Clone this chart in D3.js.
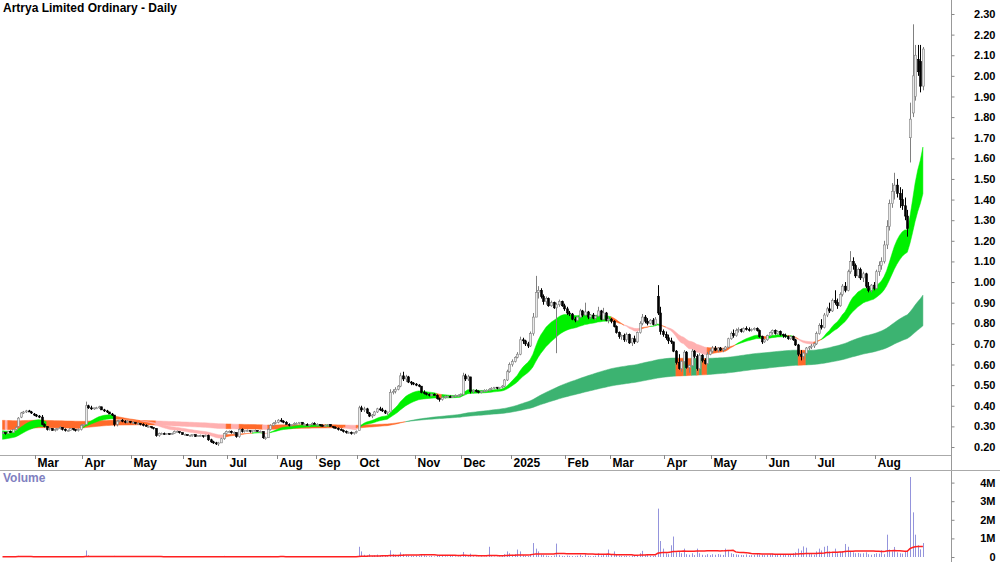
<!DOCTYPE html>
<html>
<head>
<meta charset="utf-8">
<script src="https://cdn.jsdelivr.net/npm/d3@7"></script>
<style>
  body { margin: 0; background: #fff; }
  svg { display: block; font-family: "Liberation Sans Narrow", "Arial Narrow", "Liberation Sans", Arial, sans-serif; }
</style>
</head>
<body>
<svg id="chart" width="1000" height="562"></svg>
<script>
const title = 'Artrya Limited Ordinary - Daily';

// month labels and the bar index where each month starts
const monthLabels = ['Mar', 'Apr', 'May', 'Jun', 'Jul', 'Aug', 'Sep', 'Oct', 'Nov', 'Dec',
    '2025', 'Feb', 'Mar', 'Apr', 'May', 'Jun', 'Jul', 'Aug'];
const monthStarts = [13, 31, 50, 70, 87, 106, 121, 137, 159, 177, 196, 217, 234, 255, 273, 294, 313, 336];

const priceTicks = [0.2, 0.3, 0.4, 0.5, 0.6, 0.7, 0.8, 0.9, 1.0, 1.1, 1.2, 1.3, 1.4, 1.5, 1.6, 1.7, 1.8, 1.9, 2.0, 2.1, 2.2, 2.3];
const volumeTicks = [0, 1, 2, 3, 4];
const volumeTickLabels = ['0', '1M', '2M', '3M', '4M'];

// daily bars: [open, high, low, close]
const candles = [
    // Feb 2024
    [0.27,0.275,0.265,0.27],[0.27,0.27,0.26,0.265],[0.265,0.275,0.265,0.275],[0.275,0.28,0.27,0.27],
    [0.27,0.285,0.27,0.285],[0.285,0.30,0.28,0.295],[0.30,0.345,0.30,0.34],[0.345,0.37,0.34,0.365],
    [0.365,0.375,0.36,0.37],[0.37,0.38,0.365,0.375],[0.375,0.38,0.37,0.37],[0.37,0.375,0.36,0.365],
    [0.36,0.365,0.35,0.355],
    // Mar
    [0.355,0.36,0.345,0.35],[0.35,0.355,0.34,0.345],[0.345,0.355,0.305,0.31],[0.31,0.315,0.295,0.30],
    [0.30,0.30,0.28,0.285],[0.285,0.295,0.28,0.29],[0.29,0.29,0.28,0.28],[0.28,0.29,0.275,0.285],
    [0.285,0.29,0.28,0.29],[0.29,0.30,0.285,0.295],[0.295,0.295,0.28,0.285],[0.285,0.29,0.275,0.28],
    [0.28,0.285,0.275,0.28],[0.28,0.29,0.28,0.29],[0.29,0.29,0.28,0.285],[0.285,0.285,0.275,0.28],
    [0.28,0.29,0.275,0.285],[0.285,0.31,0.28,0.305],
    // Apr
    [0.305,0.31,0.30,0.31],[0.31,0.42,0.31,0.40],[0.40,0.405,0.385,0.39],[0.39,0.40,0.38,0.385],
    [0.385,0.39,0.38,0.39],[0.39,0.395,0.385,0.39],[0.39,0.40,0.385,0.395],[0.395,0.395,0.38,0.38],
    [0.38,0.385,0.37,0.375],[0.375,0.38,0.365,0.37],[0.37,0.37,0.36,0.36],[0.36,0.365,0.35,0.355],
    [0.355,0.355,0.30,0.31],[0.31,0.33,0.30,0.325],[0.325,0.33,0.32,0.33],[0.33,0.335,0.32,0.325],
    [0.325,0.33,0.315,0.32],[0.32,0.33,0.315,0.325],[0.325,0.325,0.315,0.32],
    // May
    [0.32,0.325,0.315,0.32],[0.32,0.32,0.31,0.315],[0.315,0.32,0.31,0.315],[0.315,0.315,0.305,0.31],
    [0.31,0.315,0.30,0.305],[0.305,0.31,0.30,0.30],[0.30,0.305,0.295,0.30],[0.30,0.30,0.29,0.295],
    [0.295,0.295,0.285,0.29],[0.29,0.29,0.25,0.255],[0.255,0.27,0.25,0.265],[0.265,0.27,0.26,0.265],
    [0.265,0.27,0.26,0.26],[0.26,0.265,0.26,0.265],[0.265,0.265,0.26,0.26],[0.26,0.27,0.26,0.265],
    [0.265,0.28,0.265,0.275],[0.275,0.28,0.27,0.275],[0.275,0.275,0.265,0.27],[0.27,0.27,0.26,0.26],
    // Jun
    [0.26,0.265,0.255,0.26],[0.26,0.26,0.255,0.255],[0.255,0.26,0.25,0.255],[0.255,0.26,0.25,0.26],
    [0.26,0.26,0.25,0.25],[0.25,0.255,0.25,0.255],[0.255,0.26,0.25,0.255],[0.255,0.255,0.245,0.25],
    [0.25,0.26,0.25,0.255],[0.255,0.26,0.23,0.235],[0.235,0.24,0.22,0.225],[0.225,0.23,0.215,0.22],
    [0.22,0.225,0.21,0.215],[0.215,0.225,0.205,0.22],[0.22,0.245,0.22,0.24],[0.24,0.27,0.235,0.265],
    [0.265,0.28,0.26,0.275],
    // Jul
    [0.275,0.28,0.27,0.275],[0.275,0.28,0.265,0.27],[0.27,0.275,0.26,0.27],[0.27,0.27,0.245,0.25],
    [0.25,0.29,0.245,0.285],[0.285,0.29,0.27,0.275],[0.275,0.28,0.27,0.28],[0.28,0.285,0.275,0.28],
    [0.28,0.28,0.27,0.275],[0.275,0.28,0.27,0.28],[0.28,0.285,0.275,0.28],[0.28,0.28,0.275,0.275],
    [0.275,0.28,0.27,0.275],[0.275,0.275,0.24,0.245],[0.245,0.25,0.235,0.245],[0.245,0.29,0.245,0.285],
    [0.285,0.31,0.28,0.305],[0.305,0.32,0.30,0.315],[0.315,0.33,0.31,0.32],
    // Aug
    [0.32,0.335,0.315,0.33],[0.33,0.34,0.32,0.325],[0.325,0.33,0.315,0.32],[0.32,0.325,0.31,0.31],
    [0.31,0.315,0.30,0.305],[0.305,0.31,0.30,0.31],[0.31,0.32,0.305,0.315],[0.315,0.32,0.31,0.315],
    [0.315,0.32,0.31,0.32],[0.32,0.32,0.31,0.31],[0.31,0.315,0.305,0.31],[0.31,0.315,0.305,0.305],
    [0.305,0.31,0.30,0.31],[0.31,0.32,0.305,0.315],[0.315,0.32,0.31,0.31],
    // Sep
    [0.31,0.315,0.305,0.31],[0.31,0.31,0.30,0.305],[0.305,0.31,0.30,0.30],[0.30,0.31,0.30,0.305],
    [0.305,0.31,0.30,0.31],[0.31,0.31,0.30,0.30],[0.30,0.30,0.29,0.295],[0.295,0.30,0.29,0.29],
    [0.29,0.295,0.28,0.285],[0.285,0.29,0.28,0.28],[0.28,0.285,0.27,0.275],[0.275,0.28,0.265,0.27],
    [0.27,0.275,0.265,0.27],[0.27,0.275,0.26,0.265],[0.265,0.27,0.26,0.27],[0.27,0.28,0.265,0.275],
    // Oct
    [0.28,0.40,0.28,0.39],[0.39,0.40,0.37,0.38],[0.38,0.395,0.37,0.385],[0.385,0.39,0.36,0.365],
    [0.365,0.37,0.345,0.35],[0.35,0.36,0.34,0.355],[0.355,0.375,0.35,0.37],[0.37,0.39,0.365,0.385],
    [0.385,0.395,0.375,0.38],[0.38,0.39,0.37,0.375],[0.375,0.38,0.36,0.365],[0.365,0.37,0.355,0.37],
    [0.37,0.48,0.37,0.465],[0.465,0.48,0.455,0.47],[0.47,0.49,0.46,0.48],[0.48,0.50,0.475,0.495],
    [0.495,0.56,0.49,0.545],[0.545,0.565,0.52,0.53],[0.53,0.55,0.515,0.54],[0.54,0.545,0.51,0.515],
    [0.515,0.52,0.50,0.51],[0.51,0.515,0.50,0.505],
    // Nov
    [0.505,0.51,0.495,0.50],[0.50,0.505,0.49,0.495],[0.495,0.495,0.46,0.465],[0.465,0.475,0.455,0.46],
    [0.46,0.465,0.45,0.455],[0.455,0.46,0.445,0.45],[0.45,0.46,0.445,0.455],[0.455,0.46,0.45,0.45],
    [0.45,0.455,0.43,0.435],[0.435,0.44,0.42,0.43],[0.43,0.445,0.425,0.44],[0.44,0.45,0.435,0.445],
    [0.445,0.45,0.44,0.445],[0.445,0.45,0.44,0.44],[0.44,0.45,0.44,0.445],[0.445,0.455,0.44,0.45],
    [0.45,0.455,0.445,0.45],[0.45,0.46,0.445,0.455],
    // Dec
    [0.455,0.56,0.45,0.545],[0.545,0.555,0.52,0.53],[0.53,0.55,0.52,0.54],[0.54,0.54,0.46,0.47],
    [0.47,0.48,0.46,0.475],[0.475,0.48,0.465,0.47],[0.47,0.475,0.46,0.465],[0.465,0.475,0.46,0.47],
    [0.47,0.48,0.465,0.475],[0.475,0.48,0.47,0.475],[0.475,0.485,0.47,0.48],[0.48,0.49,0.475,0.485],
    [0.485,0.49,0.48,0.49],[0.49,0.49,0.48,0.485],[0.485,0.49,0.48,0.49],[0.49,0.50,0.485,0.495],
    [0.495,0.53,0.49,0.525],[0.525,0.575,0.52,0.565],[0.565,0.61,0.56,0.60],
    // Jan 2025
    [0.60,0.625,0.59,0.615],[0.615,0.64,0.61,0.635],[0.635,0.66,0.63,0.65],[0.65,0.735,0.645,0.72],
    [0.72,0.73,0.70,0.715],[0.715,0.72,0.69,0.70],[0.70,0.71,0.68,0.69],[0.69,0.76,0.685,0.75],
    [0.75,0.85,0.74,0.83],[0.83,1.03,0.83,0.95],[0.95,0.98,0.92,0.96],[0.96,0.97,0.92,0.93],
    [0.93,0.94,0.89,0.905],[0.905,0.93,0.89,0.92],[0.92,0.925,0.88,0.885],[0.885,0.91,0.88,0.90],
    [0.90,0.905,0.87,0.875],[0.875,0.90,0.655,0.89],[0.89,0.915,0.88,0.905],[0.905,0.91,0.88,0.885],
    [0.885,0.895,0.86,0.87],
    // Feb
    [0.87,0.88,0.84,0.85],[0.85,0.86,0.835,0.845],[0.845,0.85,0.815,0.82],[0.82,0.83,0.805,0.815],
    [0.815,0.835,0.81,0.83],[0.83,0.87,0.825,0.86],[0.86,0.865,0.83,0.84],[0.84,0.90,0.835,0.855],
    [0.855,0.86,0.82,0.83],[0.83,0.845,0.82,0.84],[0.84,0.85,0.82,0.825],[0.825,0.84,0.815,0.835],
    [0.835,0.88,0.83,0.86],[0.86,0.865,0.815,0.82],[0.82,0.875,0.815,0.85],[0.85,0.855,0.81,0.815],
    [0.815,0.83,0.80,0.82],
    // Mar
    [0.82,0.825,0.80,0.81],[0.81,0.815,0.78,0.785],[0.785,0.79,0.75,0.755],[0.755,0.76,0.725,0.735],
    [0.735,0.745,0.72,0.74],[0.74,0.75,0.71,0.72],[0.72,0.755,0.71,0.745],[0.745,0.75,0.70,0.705],
    [0.705,0.73,0.69,0.725],[0.725,0.74,0.70,0.71],[0.71,0.76,0.705,0.755],[0.755,0.81,0.75,0.80],
    [0.80,0.845,0.79,0.83],[0.83,0.84,0.80,0.81],[0.81,0.825,0.79,0.80],[0.80,0.82,0.795,0.815],
    [0.815,0.825,0.79,0.795],[0.795,0.83,0.79,0.82],[0.93,0.985,0.84,0.85],[0.85,0.88,0.745,0.76],
    [0.76,0.77,0.735,0.745],
    // Apr
    [0.745,0.76,0.72,0.73],[0.73,0.745,0.70,0.715],[0.715,0.73,0.70,0.71],[0.71,0.71,0.66,0.665],
    [0.665,0.67,0.60,0.61],[0.61,0.65,0.575,0.58],[0.58,0.62,0.565,0.615],[0.615,0.67,0.60,0.66],
    [0.66,0.665,0.58,0.585],[0.585,0.60,0.56,0.595],[0.595,0.675,0.59,0.665],[0.665,0.67,0.63,0.64],
    [0.64,0.65,0.57,0.58],[0.58,0.655,0.575,0.645],[0.645,0.65,0.61,0.62],[0.62,0.63,0.60,0.605],
    [0.605,0.66,0.60,0.65],[0.65,0.675,0.645,0.665],
    // May
    [0.665,0.69,0.655,0.68],[0.68,0.69,0.665,0.67],[0.67,0.685,0.66,0.68],[0.68,0.685,0.665,0.67],
    [0.67,0.68,0.66,0.675],[0.675,0.69,0.67,0.685],[0.685,0.73,0.68,0.725],[0.725,0.76,0.72,0.75],
    [0.75,0.77,0.73,0.74],[0.74,0.775,0.735,0.765],[0.765,0.78,0.755,0.77],[0.77,0.775,0.755,0.76],
    [0.76,0.78,0.755,0.775],[0.775,0.785,0.765,0.77],[0.77,0.78,0.76,0.765],[0.765,0.775,0.76,0.77],
    [0.77,0.78,0.765,0.775],[0.775,0.78,0.76,0.765],[0.765,0.77,0.73,0.735],[0.735,0.74,0.70,0.71],
    [0.71,0.725,0.705,0.72],
    // Jun
    [0.72,0.745,0.715,0.74],[0.74,0.76,0.735,0.755],[0.755,0.77,0.745,0.765],[0.765,0.77,0.745,0.75],
    [0.75,0.765,0.745,0.76],[0.76,0.765,0.74,0.745],[0.745,0.75,0.73,0.74],[0.74,0.75,0.73,0.735],
    [0.735,0.74,0.72,0.725],[0.725,0.74,0.72,0.735],[0.735,0.74,0.715,0.72],[0.72,0.725,0.69,0.695],
    [0.695,0.70,0.64,0.65],[0.65,0.67,0.62,0.64],[0.64,0.66,0.625,0.655],[0.655,0.685,0.65,0.68],
    [0.68,0.69,0.67,0.685],[0.685,0.70,0.675,0.69],[0.69,0.705,0.68,0.70],
    // Jul
    [0.70,0.76,0.695,0.75],[0.75,0.80,0.745,0.79],[0.79,0.82,0.77,0.78],[0.78,0.85,0.775,0.84],
    [0.84,0.88,0.83,0.87],[0.87,0.90,0.85,0.86],[0.86,0.92,0.855,0.91],[0.91,0.96,0.89,0.90],
    [0.90,0.92,0.87,0.885],[0.885,0.95,0.88,0.94],[0.94,0.99,0.93,0.98],[0.98,1.00,0.95,0.96],
    [0.96,1.06,0.955,1.05],[1.05,1.15,1.04,1.10],[1.10,1.12,1.06,1.08],[1.08,1.09,1.02,1.03],
    [1.03,1.07,1.02,1.06],[1.06,1.07,1.01,1.02],[1.02,1.05,1.00,1.04],[1.04,1.045,0.97,0.98],
    [0.98,1.00,0.95,0.96],[0.96,0.99,0.95,0.985],[0.985,1.00,0.96,0.97],
    // Aug
    [0.97,1.06,0.965,1.05],[1.05,1.10,1.03,1.08],[1.08,1.12,1.06,1.10],[1.10,1.20,1.09,1.18],
    [1.18,1.30,1.16,1.27],[1.27,1.40,1.25,1.38],[1.38,1.48,1.36,1.44],[1.44,1.53,1.40,1.47],
    [1.47,1.50,1.41,1.43],[1.43,1.46,1.36,1.40],[1.40,1.45,1.35,1.37],[1.37,1.41,1.30,1.32],
    [1.32,1.35,1.22,1.26],[1.70,1.87,1.58,1.79],[1.82,2.25,1.80,2.00],[1.90,2.15,1.88,2.10],
    [2.08,2.15,2.00,2.02],[2.07,2.15,1.92,1.95],[1.95,2.14,1.93,2.13]
];

// daily volume, thousands of shares
const volumes = [
    15,8,12,20,10,25,60,30,20,15,10,18,12,
    20,10,35,15,8,12,6,10,15,9,5,12,8,10,14,6,9,30,
    20,350,90,40,25,15,30,20,12,18,25,10,60,30,15,10,8,12,10,
    8,12,6,10,15,8,5,10,6,40,20,10,8,5,12,6,15,10,8,12,
    6,8,5,10,12,6,8,5,10,30,25,15,20,10,35,60,20,
    10,8,15,12,45,10,8,6,12,5,8,10,6,35,15,40,55,25,20,
    30,15,10,8,12,6,5,10,8,12,6,5,8,10,6,
    8,10,5,6,12,8,10,15,20,10,12,18,8,10,15,20,
    550,300,120,80,150,60,90,130,70,50,60,40,360,150,120,90,250,160,100,80,60,50,
    70,60,150,90,50,40,60,30,120,80,50,40,30,60,45,35,30,40,
    270,60,40,180,40,30,20,35,20,30,550,40,25,20,30,50,150,300,200,
    120,150,400,300,90,60,50,150,750,450,300,120,100,80,60,50,80,720,100,60,50,
    80,60,50,40,70,120,50,150,60,40,50,70,200,80,150,100,400,
    100,300,150,80,60,50,60,40,70,50,90,200,330,100,120,70,60,90,2600,860,450,
    200,150,630,1100,250,300,200,450,150,120,200,100,450,200,120,90,150,100,
    150,120,160,130,110,450,350,200,160,140,120,110,100,140,90,100,110,160,140,120,100,
    120,150,180,140,120,110,130,150,160,120,200,250,450,350,570,500,200,150,120,
    300,450,350,550,600,300,250,450,200,280,320,700,550,300,250,200,220,180,200,250,150,120,160,
    200,180,360,150,1200,400,300,540,250,200,180,300,350,4300,2400,1200,630,410,750
];

// moving average bands: short fast, short slow, long fast, long slow
const emaPeriods = [16, 30, 140, 240];
// band values at the left edge
const emaSeeds = [0.28, 0.235, 0.285, 0.33];
const volumeAvgPeriod = 30;

const svg = d3.select('#chart');
const W = 1000, H = 562;
const axisX = 951;

const closes = candles.map(d => d[3]);

const x = d3.scaleLinear()
    .domain([0, candles.length - 1])
    .range([2.5, 2.5 + (candles.length - 1) * 2.6]);
const y = d3.scaleLinear().domain([0.2, 2.3]).range([447, 14]);
const yv = d3.scaleLinear().domain([0, 4]).range([557, 482.6]);

const ema = (period, seed) => {
    const k = 2 / (period + 1);
    let v = seed;
    return closes.map(c => (v = v + k * (c - v)));
};
const emas = emaPeriods.map((p, i) => ema(p, emaSeeds[i]));

svg.append('defs').append('clipPath').attr('id', 'priceClip')
    .append('rect').attr('x', 0).attr('y', 0).attr('width', axisX).attr('height', 455);

const price = svg.append('g').attr('clip-path', 'url(#priceClip)');

const colors = {
    short: '#00f000',
    long: '#3cb371',
    orange: '#ff6a2a',
    pink: '#ffb0b0',
};

// colour of a band at each bar, from the trend and where the close sits
const bandColours = (fast, slow, bull, needAbove, pinkGap) => closes.map((c, i) => {
    const top = Math.max(fast[i], slow[i]);
    const bot = Math.min(fast[i], slow[i]);
    if (fast[i] > slow[i]) {
        if (needAbove) return c >= top ? bull : 'orange';
        return c >= bot ? bull : 'orange';
    }
    return c < bot * pinkGap ? 'pink' : 'orange';
});

const drawBand = (fast, slow, bull, needAbove, pinkGap) => {
    const cols = bandColours(fast, slow, bull, needAbove, pinkGap);
    const runs = [];
    cols.forEach((c, i) => {
        if (!runs.length || runs[runs.length - 1].c !== c) runs.push({c, s: i, e: i});
        else runs[runs.length - 1].e = i;
    });
    const area = d3.area()
        .x(i => x(i))
        .y0(i => y(Math.min(fast[i], slow[i])))
        .y1(i => y(Math.max(fast[i], slow[i])));
    runs.forEach(r => {
        const idx = d3.range(r.s, Math.min(r.e + 1, candles.length - 1) + 1);
        price.append('path')
            .attr('d', area(idx))
            .attr('fill', colors[r.c])
            .attr('stroke', colors[r.c])
            .attr('stroke-width', 0.5);
    });
};

drawBand(emas[2], emas[3], 'long', true, 0.94);
drawBand(emas[0], emas[1], 'short', false, 1);

// candles
const cg = price.append('g');
candles.forEach((d, i) => {
    const [o, h, l, c] = d;
    const up = c >= o;
    const cx = Math.round(x(i)) + 0.5;
    cg.append('line')
        .attr('x1', cx).attr('x2', cx)
        .attr('y1', y(h)).attr('y2', y(l))
        .attr('stroke', up ? '#808080' : '#000')
        .attr('stroke-width', 1);
    const top = y(Math.max(o, c));
    const ht = Math.max(1, Math.abs(y(o) - y(c)));
    cg.append('rect')
        .attr('x', cx - 1).attr('y', top)
        .attr('width', 2).attr('height', ht)
        .attr('fill', up ? '#e8e8e8' : '#000')
        .attr('stroke', up ? '#808080' : '#000')
        .attr('stroke-width', 0.6);
});

// title
svg.append('text')
    .attr('x', 3).attr('y', 11.5)
    .attr('font-size', 12).attr('font-weight', 'bold')
    .attr('fill', '#000')
    .text(title);

// right axis line
svg.append('line')
    .attr('x1', axisX + 0.5).attr('x2', axisX + 0.5)
    .attr('y1', 0).attr('y2', H)
    .attr('stroke', '#999');

// price axis
const pAxis = svg.append('g').attr('transform', `translate(${axisX + 0.5},0)`)
    .call(d3.axisRight(y).tickValues(priceTicks).tickSize(3).tickFormat(d3.format('.2f')));
pAxis.select('.domain').remove();
pAxis.selectAll('line').attr('stroke', '#888');
pAxis.selectAll('text')
    .attr('x', 44).attr('text-anchor', 'end')
    .attr('font-size', 11).attr('font-weight', 'bold')
    .attr('font-family', 'inherit').attr('fill', '#000');

// date strip
svg.append('line').attr('x1', 0).attr('x2', axisX).attr('y1', 455.5).attr('y2', 455.5).attr('stroke', '#aaa');
svg.append('line').attr('x1', 0).attr('x2', W).attr('y1', 470.5).attr('y2', 470.5).attr('stroke', '#aaa');

const mg = svg.append('g');
monthStarts.forEach((s, k) => {
    const tx = Math.round(x(s) - 1.3) + 0.5;
    mg.append('line')
        .attr('x1', tx).attr('x2', tx)
        .attr('y1', 455).attr('y2', 459)
        .attr('stroke', '#888');
    mg.append('text')
        .attr('x', tx + 2).attr('y', 466.5)
        .attr('font-size', 12).attr('font-weight', 'bold')
        .attr('fill', '#000')
        .text(monthLabels[k]);
});

// volume panel
svg.append('text')
    .attr('x', 3).attr('y', 481.5)
    .attr('font-size', 12).attr('font-weight', 'bold')
    .attr('fill', '#8080c0')
    .text('Volume');

const vAxis = svg.append('g').attr('transform', `translate(${axisX + 0.5},0)`)
    .call(d3.axisRight(yv).tickValues(volumeTicks).tickSize(3).tickFormat((d, i) => volumeTickLabels[i]));
vAxis.select('.domain').remove();
vAxis.selectAll('line').attr('stroke', '#888');
vAxis.selectAll('text')
    .attr('x', 44).attr('text-anchor', 'end')
    .attr('font-size', 11).attr('font-weight', 'bold')
    .attr('font-family', 'inherit').attr('fill', '#000');

const vg = svg.append('g');
volumes.forEach((v, i) => {
    const cx = Math.round(x(i)) + 0.5;
    vg.append('line')
        .attr('x1', cx).attr('x2', cx)
        .attr('y1', yv(0)).attr('y2', yv(v / 1000))
        .attr('stroke', '#9494dc')
        .attr('stroke-width', 1);
});

const volAvg = volumes.map((v, i) => d3.mean(volumes.slice(Math.max(0, i - volumeAvgPeriod + 1), i + 1)) / 1000);
svg.append('path')
    .datum(volAvg)
    .attr('d', d3.line().x((d, i) => x(i)).y(d => yv(d)))
    .attr('fill', 'none')
    .attr('stroke', '#ff2020')
    .attr('stroke-width', 1.5);
</script>
</body>
</html>
